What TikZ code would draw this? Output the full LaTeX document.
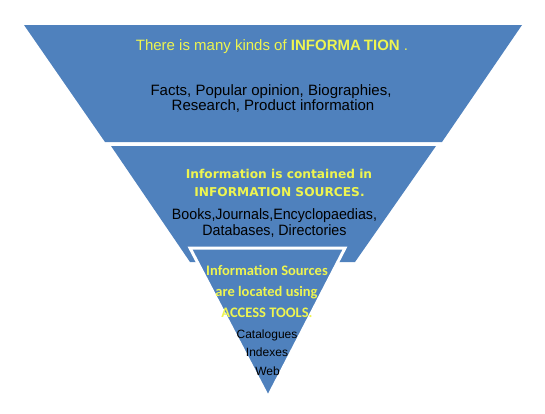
\documentclass[tikz,border=0pt]{standalone}
\usepackage{fontspec}
\setmainfont{Liberation Sans}
\newfontfamily\tahomaish{DejaVu Sans}
\newfontfamily\calib{Carlito}
\newfontfamily\narrowf{Liberation Sans}[FakeStretch=0.95]
\definecolor{ppblue}{HTML}{4F81BD}
\definecolor{ppyellow}{RGB}{238,245,80}
\tikzset{
  lbl/.style={anchor=base, inner sep=0pt, text=black},
  ylw/.style={lbl, text=ppyellow},
  topfont/.style={font=\fontsize{15}{18}\selectfont},
  midhead/.style={font=\tahomaish\bfseries\fontsize{12.2}{15}\selectfont},
  midbody/.style={font=\narrowf\fontsize{15}{18}\selectfont},
  trihead/.style={font=\calib\bfseries\fontsize{14.5}{17}\selectfont},
  tribody/.style={font=\fontsize{12}{14}\selectfont},
  band/.style={fill=ppblue}
}
\begin{document}
\begin{tikzpicture}[x=1pt,y=-1pt]
\useasboundingbox (0,0) rectangle (545,413);
% bands of the funnel
\fill[band] (24,25) -- (522,25) -- (442,142) -- (105,142) -- cycle;
\fill[band] (111,146) -- (436,146) -- (355,262) -- (190,262) -- cycle;
\filldraw[band, draw=white, line width=3pt, line join=miter] (190,248) -- (345,248) -- (268,397) -- cycle;
% top band
\node[ylw, topfont] (l1) at (272,50) {There is many kinds of \textbf{INFORMA\kern3pt TION} .};
\node[lbl, topfont] (l2) at (271,95) {Facts, Popular opinion, Biographies,};
\node[lbl, topfont] (l3) at (273,110.5) {Research, Product information};
% middle band
\node[ylw, midhead] (m1) at (279,178) {Information is contained in};
\node[ylw, midhead] (m2) at (279.5,196) {INFORMATION SOURCES.};
\node[lbl, midbody] (m3) at (274.5,219) {Books,Journals,Encyclopaedias,};
\node[lbl, midbody] (m4) at (274.5,235.5) {Databases, Directories};
% bottom triangle
\node[ylw, trihead] (b1) at (267,275) {Information Sources};
\node[ylw, trihead] (b2) at (266.5,296.5) {are located using};
\node[ylw, trihead] (b3) at (267,317) {ACCESS TOOLS.};
\node[lbl, tribody] (b4) at (267,338.7) {Catalogues};
\node[lbl, tribody] (b5) at (267,356.7) {Indexes};
\node[lbl, tribody] (b6) at (267.5,375) {Web};
\end{tikzpicture}
\end{document}
